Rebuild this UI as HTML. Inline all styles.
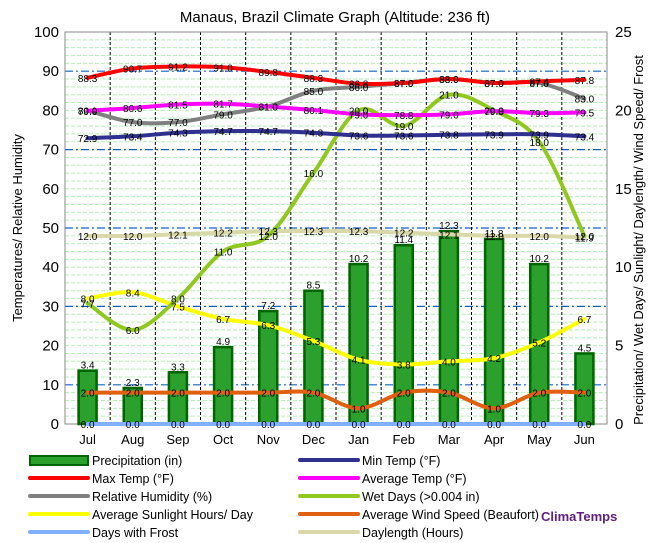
<!DOCTYPE html>
<html><head><meta charset="utf-8"><style>
body{margin:0;background:#fff;font-family:"Liberation Sans",sans-serif}
svg{display:block}
</style></head><body>
<svg id="c" width="661" height="543" xmlns="http://www.w3.org/2000/svg"></svg>
<script>
const months=["Jul","Aug","Sep","Oct","Nov","Dec","Jan","Feb","Mar","Apr","May","Jun"];
const maxTemp=[88.3,90.7,91.2,91.0,89.8,88.3,86.8,87.0,88.0,87.0,87.4,87.8];
const minTemp=[72.9,73.4,74.3,74.7,74.7,74.3,73.6,73.6,73.8,73.9,73.9,73.4];
const avgTemp=[79.9,80.6,81.5,81.7,81.0,80.1,79.0,78.8,79.0,79.8,79.3,79.5];
const humidity=[80.0,77.0,77.0,79.0,81.0,85.0,86.0,87.0,88.0,87.0,87.0,83.0];
const precip=[3.4,2.3,3.3,4.9,7.2,8.5,10.2,11.4,12.3,11.8,10.2,4.5];
const wetDays=[7.7,6.0,8.0,11.0,12.0,16.0,20.0,19.0,21.0,20.0,18.0,12.0];
const sunlight=[8.0,8.4,7.5,6.7,6.3,5.3,4.1,3.8,4.0,4.2,5.2,6.7];
const wind=[2.0,2.0,2.0,2.0,2.0,2.0,1.0,2.0,2.0,1.0,2.0,2.0];
const frost=[0,0,0,0,0,0,0,0,0,0,0,0];
const daylength=[12.0,12.0,12.1,12.2,12.3,12.3,12.3,12.2,12.1,12.0,12.0,11.9];
const leftTicks=[0,10,20,30,40,50,60,70,80,90,100];
const rightTicks=[0,5,10,15,20,25];

const svg=document.getElementById('c');const NS="http://www.w3.org/2000/svg";
const L=65,R=607,T=32,B=424;
const step=(R-L)/12;
const x=i=>L+step*(i+0.5);
const yL=v=>B-(v/100)*(B-T);
const yR=v=>B-(v/25)*(B-T);
function el(t,a,p){const e=document.createElementNS(NS,t);for(const k in a)e.setAttribute(k,a[k]);(p||svg).appendChild(e);return e;}
function txt(s,a,name){const e=el('text',a);e.textContent=s;return e;}

for(let v=2;v<=100;v+=2){
  const blue=v%10===0 && (v/10)%2===1;
  const g=el('line',{x1:L,x2:R,y1:yL(v),y2:yL(v),stroke:blue?'#1060d0':'#b8f0b8','stroke-width':blue?1.2:1,'stroke-dasharray':blue?'8,3,2,3':'4,2'});
  
}
for(let i=1;i<12;i++){const g=el('line',{x1:L+step*i,x2:L+step*i,y1:T,y2:B,stroke:'#000','stroke-dasharray':'3,2'});
}
const fr=el('rect',{x:L,y:T,width:R-L,height:B-T,fill:'none',stroke:'#888'});


precip.forEach((v,i)=>{const b=el('rect',{x:x(i)-9,y:yR(v),width:18,height:B-yR(v),fill:'#2ca02c',stroke:'#006400','stroke-width':2.5});
});

function path(vals,yf){
  const p=vals.map((v,i)=>[x(i),yf(v)]);let d=`M${p[0][0]},${p[0][1]}`;
  for(let i=0;i<p.length-1;i++){const p0=p[Math.max(0,i-1)],p1=p[i],p2=p[i+1],p3=p[Math.min(p.length-1,i+2)];
  d+=` C${p1[0]+(p2[0]-p0[0])/6},${p1[1]+(p2[1]-p0[1])/6} ${p2[0]-(p3[0]-p1[0])/6},${p2[1]-(p3[1]-p1[1])/6} ${p2[0]},${p2[1]}`;}
  return d;}
function series(vals,yf,color,name){
  const e=el('path',{d:path(vals,yf),fill:'none',stroke:color,'stroke-width':4,'stroke-linecap':'round'});
  }
function labels(vals,yf,name,dy){vals.forEach((v,i)=>txt(v.toFixed(1),{x:x(i),y:yf(v)+(dy||4),'font-size':10,'text-anchor':'middle',fill:'#000'},name+'-label'));}
const S=[[frost,yR,'#80b0ff','frost'],[daylength,yR,'#d8d8a8','daylength'],[wind,yR,'#e06010','wind'],[sunlight,yR,'#ffff00','sunlight'],
[wetDays,yR,'#90c820','wet-days'],[humidity,yL,'#808080','humidity'],[avgTemp,yL,'#ff00ff','avg-temp'],[minTemp,yL,'#303090','min-temp'],[maxTemp,yL,'#ff0000','max-temp']];
S.forEach(s=>series(s[0],s[1],s[2],s[3]));
labels(precip,yR,'precip',-2);
S.forEach(s=>labels(s[0],s[1],s[3]));

leftTicks.forEach(v=>txt(String(v),{x:L-6,y:yL(v)+5,'font-size':15,'text-anchor':'end'},'left-tick'));
rightTicks.forEach(v=>txt(String(v),{x:R+8,y:yR(v)+5,'font-size':15},'right-tick'));
months.forEach((m,i)=>txt(m,{x:x(i),y:B+20,'font-size':13,'text-anchor':'middle'},'x-tick'));
txt('Manaus, Brazil Climate Graph (Altitude: 236 ft)',{x:335,y:22,'font-size':15,'text-anchor':'middle'},'chart-title');
txt('Temperatures/ Relative Humidity',{x:22,y:228,'font-size':13,'text-anchor':'middle',transform:'rotate(-90 22 228)'},'left-axis-title');
txt('Precipitation/ Wet Days/ Sunlight/ Daylength/ Wind Speed/ Frost',{x:643,y:240,'font-size':13,'text-anchor':'middle',transform:'rotate(-90 643 240)'},'right-axis-title');

const leg=[["Precipitation (in)","#2ca02c",true],["Min Temp (°F)","#303090"],["Max Temp (°F)","#ff0000"],["Average Temp (°F)","#ff00ff"],
["Relative Humidity (%)","#808080"],["Wet Days (>0.004 in)","#90c820"],["Average Sunlight Hours/ Day","#ffff00"],["Average Wind Speed (Beaufort)","#e06010"],
["Days with Frost","#80b0ff"],["Daylength (Hours)","#d8d8a8"]];
leg.forEach((l,i)=>{const cx=i%2?300:30,cy=460+Math.floor(i/2)*18;
  let e;if(l[2])e=el('rect',{x:cx,y:cy-4,width:58,height:9,fill:l[1],stroke:'#006400','stroke-width':2});
  else e=el('line',{x1:cx,x2:cx+58,y1:cy,y2:cy,stroke:l[1],'stroke-width':4,'stroke-linecap':'round'});
  
  txt(l[0],{x:cx+62,y:cy+5,'font-size':12.5},'legend-entry');});
txt('ClimaTemps',{x:541,y:521,'font-size':13,'font-weight':'bold',fill:'#602080'},'brand-logo');
</script>
</body></html>
